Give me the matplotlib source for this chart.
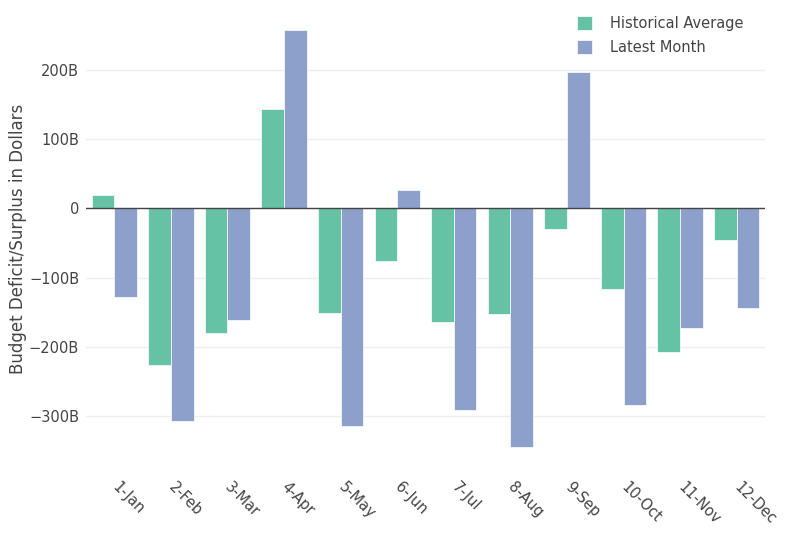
"""Budget deficit/surplus by month: historical average vs latest month."""

import matplotlib

matplotlib.use("Agg")
import matplotlib.pyplot as plt
import numpy as np
from matplotlib.ticker import FuncFormatter

plt.rcParams["font.family"] = ["DejaVu Sans"]

months = ["1-Jan", "2-Feb", "3-Mar", "4-Apr", "5-May", "6-Jun",
          "7-Jul", "8-Aug", "9-Sep", "10-Oct", "11-Nov", "12-Dec"]
# values in billions of dollars
historical_avg = [19.5, -226, -180, 143, -151, -75.5, -164, -152, -29.5, -117, -208, -45.5]
latest_month = [-128, -307, -161, 258, -315, 26.5, -291, -345, 197, -284, -173, -144.5]

GREEN = "#66c2a5"
BLUE = "#8da0cb"
TEXT = "#444444"

fig = plt.figure(figsize=(8.06, 5.58), dpi=100)
ax = fig.add_axes([86 / 806, 1 - 468 / 558, (765 - 86) / 806, (468 - 9) / 558])

x = np.arange(len(months))
w = 0.4
ax.bar(x - w / 2, historical_avg, width=w, color=GREEN, edgecolor="white",
       linewidth=0.5, label="Historical Average", zorder=2)
ax.bar(x + w / 2, latest_month, width=w, color=BLUE, edgecolor="white",
       linewidth=0.5, label="Latest Month", zorder=2)

ax.set_xlim(-0.5, len(months) - 0.5)
ax.set_ylim(-375, 288)
ax.axhline(0, color=TEXT, linewidth=1.0, zorder=3)

ax.set_yticks([-300, -200, -100, 0, 100, 200])
ax.yaxis.set_major_formatter(FuncFormatter(lambda v, _: "0" if v == 0 else f"{int(v)}B".replace("-", "\u2212")))
ax.grid(axis="y", color="#eeeeee", linewidth=1.0, zorder=0)
ax.tick_params(axis="both", length=0, labelsize=10.5, colors=TEXT)
ax.tick_params(axis="y", pad=5)

ax.set_xticks(x)
ax.set_xticklabels(months, rotation=-45, ha="left", va="center", rotation_mode="anchor")
ax.tick_params(axis="x", pad=12)

for s in ax.spines.values():
    s.set_visible(False)

ax.set_ylabel("Budget Deficit/Surplus in Dollars", fontsize=12, color=TEXT)
# label anchor is the right side of the rotated text
ax.yaxis.set_label_coords((27 - 86) / 679, 0.5)

leg = fig.legend(loc="upper left", bbox_to_anchor=(564 / 806, 1 - 3 / 558), frameon=False,
                 fontsize=10.5, labelcolor=TEXT, handlelength=1.05, handleheight=1.05,
                 handletextpad=1.2, labelspacing=0.6)

fig.savefig("out.png", dpi=100)
